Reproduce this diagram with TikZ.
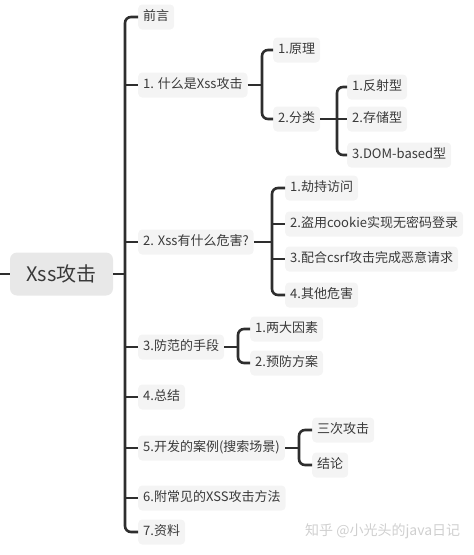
\documentclass[tikz,border=0pt]{standalone}
\usepackage{fontspec}
\setmainfont{Noto Sans CJK SC}
\usetikzlibrary{calc}
\definecolor{ln}{HTML}{2E2E2E}
\definecolor{tx}{HTML}{3A3A3A}
\definecolor{bx}{HTML}{F4F4F4}
\definecolor{rootbx}{HTML}{E8E8E8}
\definecolor{wm}{HTML}{CFCFCF}
\tikzset{
  item/.style={fill=bx, text=tx, rounded corners=4pt, anchor=west, inner xsep=5pt, inner ysep=0pt,
    minimum height=25pt, text height=9.8pt, text depth=2.6pt, font=\fontsize{13}{15}\selectfont},
  rootnode/.style={fill=rootbx, text=tx, rounded corners=7pt, minimum width=103pt, minimum height=43pt,
    font=\fontsize{20}{23}\selectfont},
  conn/.style={draw=ln, line width=2.6pt, rounded corners=6pt},
  stub/.style={draw=ln, line width=2.6pt}
}
\begin{document}
\begin{tikzpicture}[x=1pt,y=-1pt]
\useasboundingbox (0,0) rectangle (474,555);
% root
\node[rootnode] (root) at (61.5,274) {Xss攻击};
\coordinate (lstub) at (0,274);
% main items
\node[item] (n0) at (138,17) {前言};
\node[item] (n1) at (138,85) {1. 什么是Xss攻击};
\node[item] (n2) at (138,242) {2. Xss有什么危害?};
\node[item] (n3) at (138,347) {3.防范的手段};
\node[item] (n4) at (138,397) {4.总结};
\node[item] (n5) at (138,448) {5.开发的案例(搜索场景)};
\node[item] (n6) at (138,498) {6.附常见的XSS攻击方法};
\node[item] (n7) at (138,532) {7.资料};
% sub items of 1
\node[item] (n11) at (273,50) {1.原理};
\node[item] (n12) at (273,119) {2.分类};
\node[item] (n121) at (347,87) {1.反射型};
\node[item] (n122) at (347,119) {2.存储型};
\node[item] (n123) at (347,155) {3.DOM-based型};
% sub items of 2
\node[item] (n21) at (285,188) {1.劫持访问};
\node[item] (n22) at (285,224) {2.盗用cookie实现无密码登录};
\node[item] (n23) at (285,259) {3.配合csrf攻击完成恶意请求};
\node[item] (n24) at (285,295) {4.其他危害};
% sub items of 3
\node[item] (n31) at (250,329) {1.两大因素};
\node[item] (n32) at (250,363) {2.预防方案};
% sub items of 5
\node[item] (n51) at (312,430) {三次攻击};
\node[item] (n52) at (312,465) {结论};
% watermark
\node[text=wm, anchor=west, inner sep=0pt, font=\fontsize{14}{16}\selectfont] (wmark) at (305,531) {知乎 @小光头的java日记};

% trunk coordinates
\coordinate (t0) at (125,274);
\coordinate (t1) at (262,85);
\coordinate (t12) at (337,119);
\coordinate (t2) at (272,242);
\coordinate (t3) at (238,347);
\coordinate (t5) at (299,448);

% root connectors
\draw[stub] (lstub) -- (root.west);
\draw[stub] (root.east) -- (t0);
\draw[conn] (n0.west) -| (t0) |- (n7.west);
\foreach \n in {n1,n2,n3,n4,n5,n6} {
  \draw[stub] (\n.west -| t0) -- (\n.west);
}
% branch 1
\draw[stub] (n1.east) -- (t1);
\draw[conn] (n11.west) -| (t1) |- (n12.west);
\draw[stub] (n12.east) -- (t12);
\draw[conn] (n121.west) -| (t12) |- (n123.west);
\draw[stub] (n122.west -| t12) -- (n122.west);
% branch 2
\draw[stub] (n2.east) -- (t2);
\draw[conn] (n21.west) -| (t2) |- (n24.west);
\draw[stub] (n22.west -| t2) -- (n22.west);
\draw[stub] (n23.west -| t2) -- (n23.west);
% branch 3
\draw[stub] (n3.east) -- (t3);
\draw[conn] (n31.west) -| (t3) |- (n32.west);
% branch 5
\draw[stub] (n5.east) -- (t5);
\draw[conn] (n51.west) -| (t5) |- (n52.west);
\end{tikzpicture}
\end{document}
